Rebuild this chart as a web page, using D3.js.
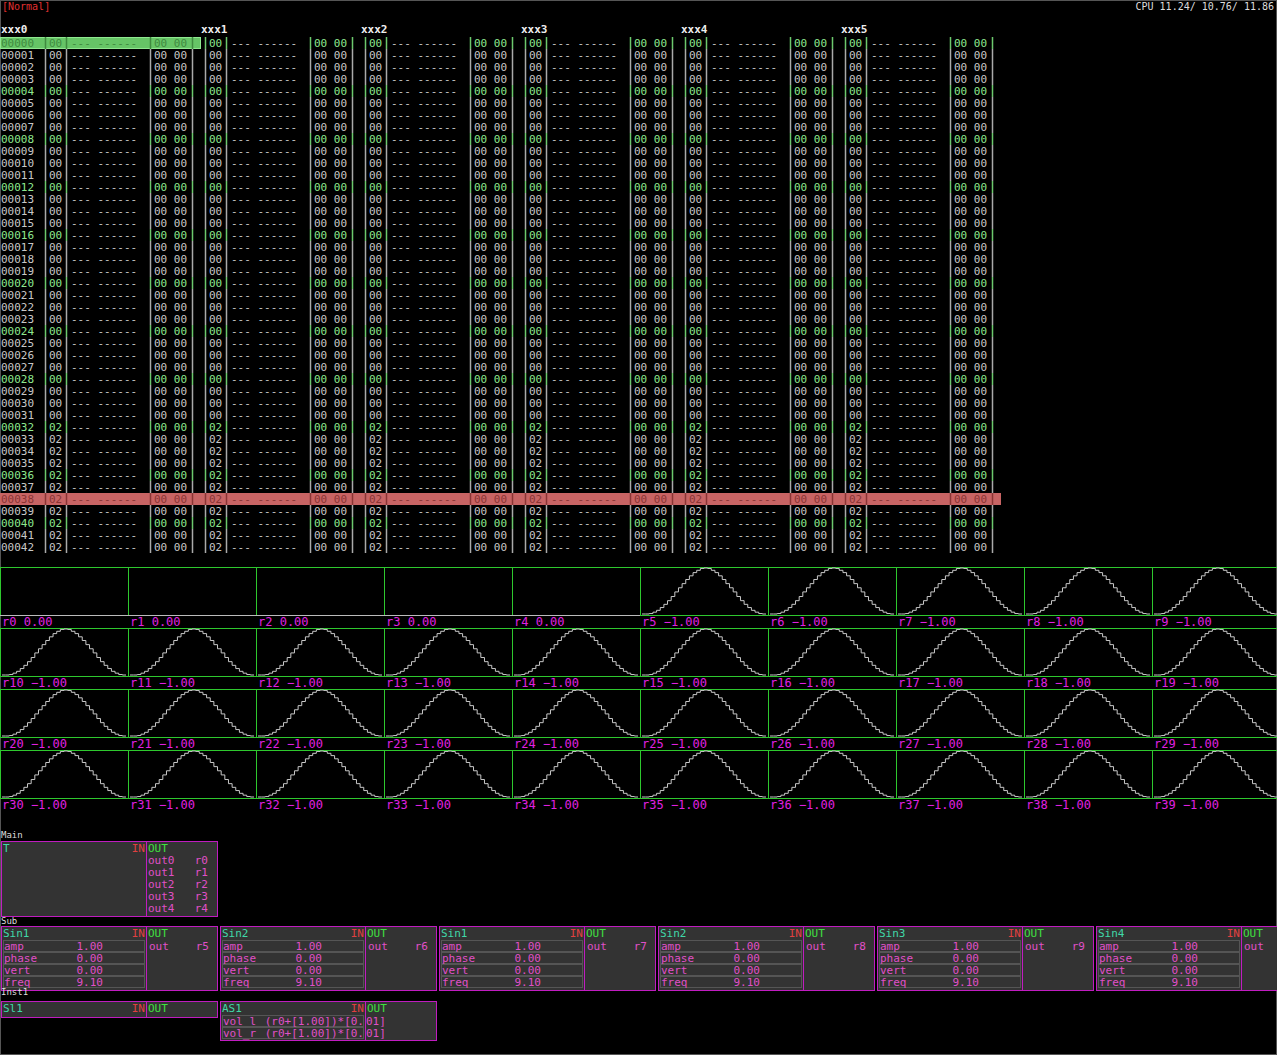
<!DOCTYPE html>
<html><head><meta charset="utf-8">
<script src="https://cdn.jsdelivr.net/npm/d3@7"></script>
<style>body{margin:0;background:#000;}svg text{font-family:"DejaVu Sans Mono",monospace;font-size:11px;}</style>
</head><body><div id="vis"></div>
<script>
var tracks = ['xxx0', 'xxx1', 'xxx2', 'xxx3', 'xxx4', 'xxx5'];
var rowCount = 43;
var instrChangeRow = 32;
var instrs = ['00', '02'];
var cursorRow = 38;
var registers = d3.range(40).map(i => 'r' + i);
var regValues = [0, 0, 0, 0, 0].concat(d3.range(35).map(() => -1));
var wave = [0, 0, 0.01, 0.04, 0.08, 0.14, 0.21, 0.29, 0.38, 0.48, 0.57, 0.66, 0.75, 0.83, 0.9, 0.95, 0.99, 1,
            0.99, 0.95, 0.9, 0.83, 0.75, 0.66, 0.57, 0.48, 0.38, 0.29, 0.21, 0.14, 0.08, 0.04, 0.01, 0, 0];
var mainOuts = [['out0', 'r0'], ['out1', 'r1'], ['out2', 'r2'], ['out3', 'r3'], ['out4', 'r4']];
var subNames = ['Sin1', 'Sin2', 'Sin1', 'Sin2', 'Sin3', 'Sin4'];
var subOuts = ['r5', 'r6', 'r7', 'r8', 'r9', ''];
var params = [['amp', '1.00'], ['phase', '0.00'], ['vert', '0.00'], ['freq', '9.10']];
var asParams = [['vol_l', '(r0+[1.00])*[0.', '01]'], ['vol_r', '(r0+[1.00])*[0.', '01]']];

var W = 1277, H = 1055;
var svg = d3.select('#vis').append('svg').attr('width', W).attr('height', H);
svg.append('rect').attr('x', 0.5).attr('y', 0.5).attr('width', W - 1).attr('height', H - 1)
    .attr('fill', '#000').attr('stroke', '#555');

var txt = (x, y, s, c, anchor) => svg.append('text').attr('x', x).attr('y', y).attr('fill', c)
    .attr('text-anchor', anchor || 'start').text(s);

txt(2, 10, '[Normal]', '#e03030').style('font-size', '10px');
txt(1274, 10, 'CPU  11.24/ 10.76/ 11.86', '#ddd', 'end').style('font-size', '10px');

// ---- pattern editor
var GREEN = '#8ee88e', GREY = '#c8c8c8';
var rowY = d3.scaleLinear().domain([0, 1]).range([37, 49]);
var trackX = d3.scaleLinear().domain([0, 1]).range([45, 205]);

tracks.forEach((t, i) => txt(i == 0 ? 1 : trackX(i) - 4, 33, t, '#eee').style('font-weight', 'bold'));

svg.append('rect').attr('x', 0.5).attr('y', rowY(0) + 0.5).attr('width', 200).attr('height', 11)
    .attr('fill', '#66c466').attr('stroke', '#8fe88f');
svg.append('rect').attr('x', 0).attr('y', rowY(cursorRow)).attr('width', 1001).attr('height', 12)
    .attr('fill', '#c86464');

d3.range(rowCount).forEach(r => {
    var y = rowY(r), base = y + 10;
    var hi = r % 4 == 0;
    var c = r == cursorRow ? '#8a3434' : (hi ? GREEN : GREY);
    var dc = r == cursorRow ? '#8a3434' : GREY;
    var lc = r == cursorRow ? '#8a3434' : (hi ? '#6cc86c' : '#aaa');
    var rowC = r == 0 ? '#3f8a3f' : c;
    txt(1, base, d3.format('05d')(r), rowC);
    tracks.forEach((t, i) => {
        var L = trackX(i);
        var cc = (r == 0 && i == 0) ? '#3f8a3f' : c;
        var ddc = (r == 0 && i == 0) ? '#3f8a3f' : dc;
        var ins = instrs[r < instrChangeRow ? 0 : 1];
        [0, 21, 105, 147].forEach(dx => svg.append('line').attr('x1', L + dx + 0.5).attr('x2', L + dx + 0.5)
            .attr('y1', y).attr('y2', y + 12).attr('stroke', (r == 0 && i == 0) ? '#3f8a3f' : lc).attr('stroke-width', 1.5));
        txt(L + 4, base, ins, cc);
        txt(L + 26, base, '--- ------', ddc);
        txt(L + 109, base, '00 00', cc);
    });
});

// ---- register scopes
var cellW = 128, top0 = 567, rowStep = 61, plotH = 48;
registers.forEach((name, i) => {
    var col = i % 10, row = Math.floor(i / 10);
    var x0 = col * cellW, y0 = top0 + row * rowStep;
    var x = d3.scaleLinear().domain([0, wave.length - 1]).range([x0 + 2, x0 + cellW - 2]);
    var y = d3.scaleLinear().domain([0, 1]).range([y0 + plotH - 1, y0 + 1]);
    svg.append('line').attr('x1', x0).attr('x2', x0 + cellW).attr('y1', y0 + 0.5).attr('y2', y0 + 0.5).attr('stroke', '#2ec82e');
    svg.append('line').attr('x1', x0).attr('x2', x0 + cellW).attr('y1', y0 + plotH + 0.5).attr('y2', y0 + plotH + 0.5)
        .attr('stroke', regValues[i] == 0 ? '#bbb' : '#2ec82e');
    svg.append('line').attr('x1', x0 + 0.5).attr('x2', x0 + 0.5).attr('y1', y0).attr('y2', y0 + plotH).attr('stroke', '#2ec82e');
    if (regValues[i] != 0) {
        svg.append('path').datum(wave)
            .attr('d', d3.line().x((d, k) => x(k)).y(d => y(d)).curve(d3.curveStepAfter))
            .attr('fill', 'none').attr('stroke', '#c8c8c8').attr('stroke-width', 1);
    }
    txt(x0 + 2, y0 + plotH + 11, name + ' ' + d3.format('.2f')(regValues[i]), '#e020e0').style('font-size', '12px');
});

// ---- module panels
var MAG = '#c01cc0', PANEL = '#333', PINK = '#e050c8';
var panel = (x, y, w, h, name) => {
    svg.append('rect').attr('x', x + 0.5).attr('y', y + 0.5).attr('width', w).attr('height', h)
        .attr('fill', PANEL).attr('stroke', MAG);
    svg.append('line').attr('x1', x + 145.5).attr('x2', x + 145.5).attr('y1', y).attr('y2', y + h).attr('stroke', MAG);
    txt(x + 2, y + 11, name, '#40d8a8');
    txt(x + 144, y + 11, 'IN', '#e04040', 'end');
    txt(x + 147, y + 11, 'OUT', '#40e040');
};
txt(1, 838, 'Main', '#ddd').style('font-size', '9px');
panel(1, 841, 216, 75, 'T');
mainOuts.forEach((o, k) => {
    txt(148, 864 + k * 12, o[0], PINK);
    txt(208, 864 + k * 12, o[1], PINK, 'end');
});

txt(1, 924, 'Sub', '#ddd').style('font-size', '9px');
subNames.forEach((n, k) => {
    var x = 1 + k * 219, y = 926;
    panel(x, y, 216, 64, n);
    params.forEach((p, j) => {
        svg.append('rect').attr('x', x + 2.5).attr('y', y + 14.5 + j * 12).attr('width', 141).attr('height', 11)
            .attr('fill', 'none').attr('stroke', '#555');
        txt(x + 3, y + 24 + j * 12, p[0], PINK);
        txt(x + 102, y + 24 + j * 12, p[1], PINK, 'end');
    });
    txt(x + 148, y + 24, 'out', PINK);
    txt(x + 208, y + 24, subOuts[k], PINK, 'end');
});

txt(1, 995, 'Inst1', '#ddd').style('font-size', '9px');
panel(1, 1001, 216, 16, 'Sl1');
panel(220, 1001, 216, 39, 'AS1');
asParams.forEach((p, j) => {
    svg.append('rect').attr('x', 222.5).attr('y', 1015.5 + j * 12).attr('width', 141).attr('height', 11)
        .attr('fill', 'none').attr('stroke', '#555');
    txt(223, 1025 + j * 12, p[0], PINK);
    txt(364, 1025 + j * 12, p[1], PINK, 'end');
    txt(366, 1025 + j * 12, p[2], PINK);
});
</script></body></html>
